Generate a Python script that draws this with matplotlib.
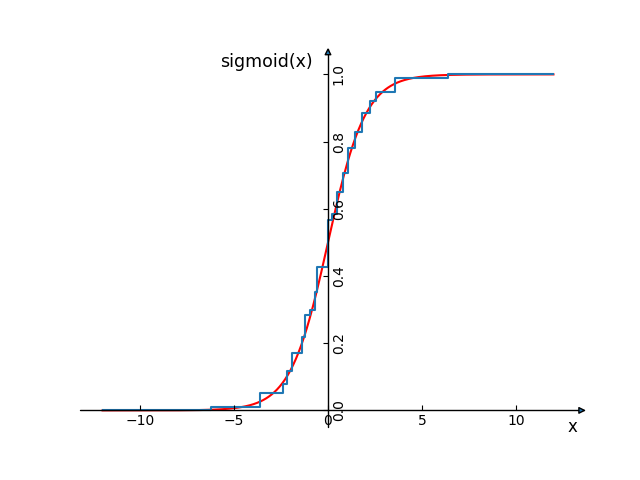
import numpy as np
import matplotlib
matplotlib.use("Agg")
import matplotlib.pyplot as plt
from mpl_toolkits.axisartist.axislines import AxesZero

# Step approximation: edges and levels
step_edges = [-12, -6.22, -3.62, -2.38, -2.20, -1.90, -1.41, -1.22, -0.96, -0.70,
              -0.61, 0.0, 0.20, 0.46, 0.78, 1.08, 1.44, 1.79, 2.23, 2.54, 3.58, 6.40, 12]
step_levels = [0.002, 0.011, 0.051, 0.078, 0.117, 0.172, 0.218, 0.284, 0.298, 0.352,
               0.427, 0.567, 0.584, 0.651, 0.706, 0.782, 0.828, 0.884, 0.921, 0.949,
               0.988, 1.0]

# Sigmoid curve domain
x_min, x_max = -12, 12
x_curve = np.linspace(x_min, x_max, 500)
y_curve = 1.0 / (1.0 + np.exp(-x_curve))

fig = plt.figure(figsize=(6.4, 4.8), dpi=100)
ax = fig.add_subplot(axes_class=AxesZero)
for d in ["xzero", "yzero"]:
    ax.axis[d].set_axisline_style("-|>", facecolor="#1f77b4")
    ax.axis[d].set_visible(True)
for d in ["left", "right", "bottom", "top"]:
    ax.axis[d].set_visible(False)
ax.axis["yzero"].set_axis_direction("bottom")

ax.plot(x_curve, y_curve, color="red", lw=1.5)
ax.step(step_edges, [step_levels[0]] + step_levels, where="pre", color="#1f77b4", lw=1.5)

fig.text(0.4156, 0.871, "sigmoid(x)", fontsize=12.5, ha="center", va="center")
fig.text(0.894, 0.110, "x", fontsize=12, ha="center", va="center")

fig.savefig("out.png", dpi=100)
